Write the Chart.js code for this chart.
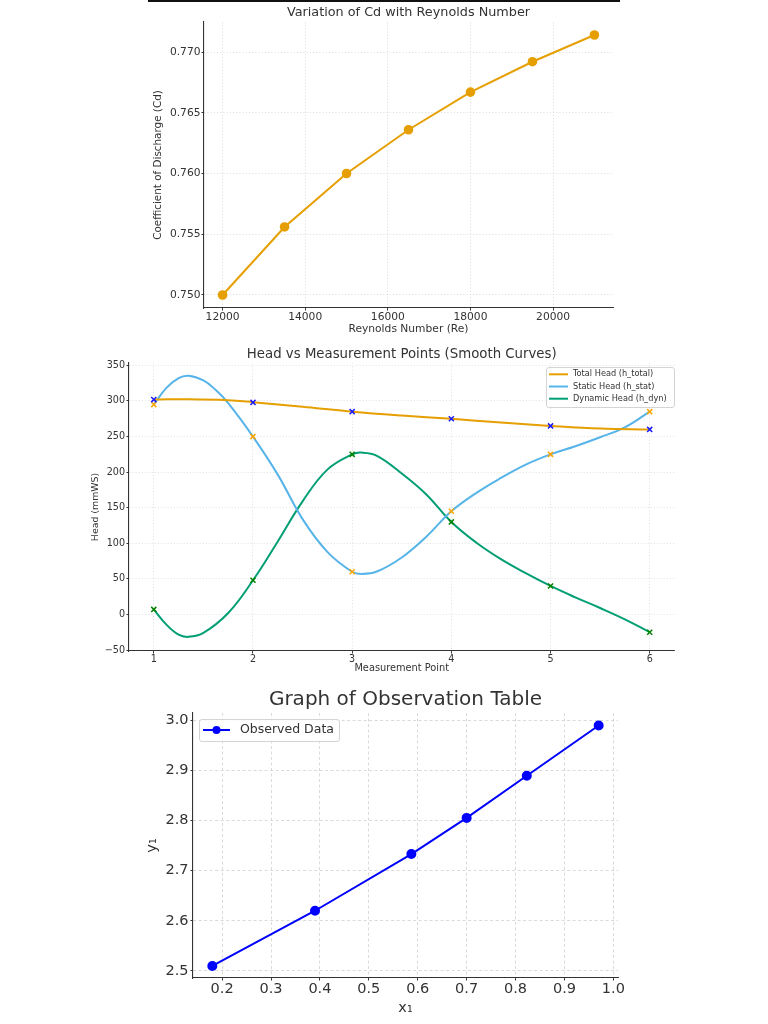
<!DOCTYPE html>
<html>
<head>
<meta charset="utf-8">
<script src="https://cdn.jsdelivr.net/npm/chart.js@4.4.1/dist/chart.umd.min.js"></script>
<style>
html,body{margin:0;padding:0;background:#fff;width:768px;height:1024px;overflow:hidden;}
.box{position:absolute;}
#topline{position:absolute;left:148px;top:0;width:472px;height:2px;background:#111;}
canvas{display:block;}
</style>
</head>
<body>
<div id="topline"></div>
<div class="box" style="left:148px;top:0;"><canvas id="c1" width="472" height="340"></canvas></div>
<div class="box" style="left:80px;top:340px;"><canvas id="c2" width="600" height="340"></canvas></div>
<div class="box" style="left:140px;top:680px;"><canvas id="c3" width="500" height="344"></canvas></div>
<script>
// ---------- Chart 1 data ----------
const reynolds = [12000, 13500, 15000, 16500, 18000, 19500, 21000];
const cd = [0.750, 0.7556, 0.760, 0.7636, 0.7667, 0.7692, 0.7714];
const reTicks = [12000, 14000, 16000, 18000, 20000];
const cdTicks = [0.750, 0.755, 0.760, 0.765, 0.770];

// ---------- Chart 2 data ----------
const measPoints = [1, 2, 3, 4, 5, 6];
const hTotal = [302, 298, 285, 275, 265, 260];
const hStat = [295, 250, 60, 145, 225, 285];
const hDyn = [7, 48, 225, 130, 40, -25];
// smooth curves
const totalCurveX = [1, 1.35, 1.75, 2, 2.5, 3, 3.5, 4, 4.5, 5, 5.5, 6];
const totalCurveY = [302, 302.6, 301.2, 298.4, 291.8, 285, 279.6, 275, 269.7, 265, 261.3, 260];
const statCurveX = [1, 1.125, 1.25, 1.35, 1.5, 1.62, 1.75, 2, 2.25, 2.5, 2.75, 3, 3.1, 3.25, 3.5, 3.75, 4, 4.25, 4.5, 4.75, 5, 5.25, 5.5, 5.75, 6];
const statCurveY = [295, 318, 332, 335.5, 329, 316, 297, 250, 196.5, 134, 88, 60, 57, 60.3, 80, 109.6, 145, 170.6, 191.8, 210.6, 225, 236.4, 249, 263, 285];
const dynCurveX = [1, 1.125, 1.25, 1.35, 1.5, 1.75, 2, 2.25, 2.5, 2.75, 3, 3.09, 3.25, 3.5, 3.75, 4, 4.25, 4.5, 4.75, 5, 5.25, 5.5, 5.75, 6];
const dynCurveY = [7, -14, -28.5, -31.5, -26, 2, 48, 102.6, 159, 203.5, 225, 227.5, 223, 198, 168.3, 130, 101.2, 77.7, 58, 40, 24, 9, -7, -25];
const pointTicks = [1, 2, 3, 4, 5, 6];
const headTicks = [-50, 0, 50, 100, 150, 200, 250, 300, 350];

// ---------- Chart 3 data ----------
const obsX = [0.18, 0.39, 0.587, 0.70, 0.823, 0.97];
const obsY = [2.51, 2.62, 2.733, 2.805, 2.889, 2.989];
const obsXTicks = [0.2, 0.3, 0.4, 0.5, 0.6, 0.7, 0.8, 0.9, 1.0];
const obsYTicks = [2.5, 2.6, 2.7, 2.8, 2.9, 3.0];

const zip = (xs, ys) => xs.map((x, i) => ({x: x, y: ys[i]}));

Chart.defaults.font.family = '"DejaVu Sans", sans-serif';
Chart.defaults.color = '#333';
Chart.defaults.animation = false;

const deco = {
  id: 'deco',
  afterDatasetsDraw(chart, args, o) {
    const ctx = chart.ctx, a = chart.chartArea;
    ctx.save();
    if (o.title) {
      ctx.font = o.titleSize + 'px "DejaVu Sans"';
      ctx.fillStyle = '#333';
      ctx.textAlign = 'center';
      ctx.textBaseline = 'middle';
      ctx.fillText(o.title, (a.left + a.right) / 2, o.titleY);
    }
    if (o.lg) {
      const L = o.lg;
      const items = chart.data.datasets.filter(d => d.inLegend);
      ctx.fillStyle = 'rgba(255,255,255,0.85)';
      ctx.strokeStyle = '#d4d4d4';
      ctx.lineWidth = 1;
      ctx.beginPath();
      ctx.roundRect(L.x + 0.5, L.y + 0.5, L.w, L.h, 2.5);
      ctx.fill();
      ctx.stroke();
      items.forEach((d, i) => {
        const y = L.y + L.first + i * L.rowH;
        ctx.strokeStyle = d.borderColor;
        ctx.lineWidth = L.lw;
        ctx.beginPath();
        ctx.moveTo(L.hx1, y);
        ctx.lineTo(L.hx2, y);
        ctx.stroke();
        if (L.dot) {
          ctx.fillStyle = d.borderColor;
          ctx.beginPath();
          ctx.arc((L.hx1 + L.hx2) / 2, y, L.dot, 0, Math.PI * 2);
          ctx.fill();
        }
        ctx.fillStyle = '#333';
        ctx.font = L.size + 'px "DejaVu Sans"';
        ctx.textAlign = 'left';
        ctx.textBaseline = 'middle';
        ctx.fillText(d.label, L.tx, y);
      });
    }
    ctx.restore();
  }
};

function axis(opts) {
  return {
    type: 'linear',
    min: opts.min, max: opts.max,
    afterBuildTicks: s => { s.ticks = opts.ticks.map(v => ({value: v})); },
    afterFit: s => { if (opts.w !== undefined) s.width = opts.w; if (opts.h !== undefined) s.height = opts.h; },
    ticks: { font: {size: opts.fs}, padding: opts.pad, maxRotation: 0, autoSkip: false, color: '#333',
             callback: opts.fmt },
    grid: { color: opts.gridColor, lineWidth: 0.8, tickColor: '#333', tickLength: 2.5, tickWidth: 1, tickBorderDash: [] },
    border: { display: true, color: '#333', width: 1.1, dash: opts.dash },
    title: { display: true, text: opts.title, font: {size: opts.lfs}, color: '#333', padding: opts.tpad }
  };
}

// ---------- Chart 1 ----------
const ORANGE1 = '#E69F00';
new Chart(document.getElementById('c1'), {
  type: 'line',
  data: { datasets: [{
    label: 'Cd', data: zip(reynolds, cd),
    borderColor: ORANGE1, backgroundColor: ORANGE1,
    pointBackgroundColor: ORANGE1, pointBorderColor: ORANGE1,
    pointRadius: 3.8, borderWidth: 2, tension: 0
  }]},
  options: {
    responsive: false,
    layout: { padding: { left: 0, right: 7, top: 22, bottom: 0 } },
    plugins: { legend: {display: false}, tooltip: {enabled: false},
      deco: { title: 'Variation of Cd with Reynolds Number', titleSize: 12.8, titleY: 12.5 } },
    scales: {
      x: axis({min: 11550, max: 21450, ticks: reTicks, h: 32, fs: 10.7, pad: 0, fmt: v => String(v),
               gridColor: '#d8d8d8', dash: [1.2, 2], title: 'Reynolds Number (Re)', lfs: 10.7, tpad: {top: 0, bottom: 4}}),
      y: axis({min: 0.74893, max: 0.77247, ticks: cdTicks, w: 56, fs: 10.7, pad: 1, fmt: v => v.toFixed(3),
               gridColor: '#d8d8d8', dash: [1.2, 2], title: 'Coefficient of Discharge (Cd)', lfs: 10.4, tpad: {top: 4.5, bottom: 0}})
    }
  },
  plugins: [deco]
});

// ---------- Chart 2 ----------
const C_TOTAL = '#E69F00', C_STAT = '#56B4E9', C_DYN = '#009E73';
function curve(label, xs, ys, color) {
  return { label: label, data: zip(xs, ys), borderColor: color, backgroundColor: color,
           borderWidth: 2, pointRadius: 0, tension: 0.4, inLegend: true, order: 2 };
}
function marks(label, xs, ys, color) {
  return { label: label, data: zip(xs, ys), showLine: false, pointStyle: 'crossRot',
           pointRadius: 3.6, pointBorderWidth: 1.5, pointBorderColor: color, pointBackgroundColor: color,
           borderColor: color, inLegend: false, order: 1 };
}
new Chart(document.getElementById('c2'), {
  type: 'line',
  data: { datasets: [
    curve('Total Head (h_total)', totalCurveX, totalCurveY, C_TOTAL),
    curve('Static Head (h_stat)', statCurveX, statCurveY, C_STAT),
    curve('Dynamic Head (h_dyn)', dynCurveX, dynCurveY, C_DYN),
    marks('Total data', measPoints, hTotal, '#1a1aff'),
    marks('Static data', measPoints, hStat, '#FFA500'),
    marks('Dynamic data', measPoints, hDyn, '#008000')
  ]},
  options: {
    responsive: false,
    layout: { padding: { left: 0, right: 3, top: 23, bottom: 0 } },
    plugins: { legend: {display: false}, tooltip: {enabled: false},
      deco: { title: 'Head vs Measurement Points (Smooth Curves)', titleSize: 13.3, titleY: 15,
              lg: { x: 466, y: 27, w: 128, h: 40, first: 7.3, rowH: 12.2, hx1: 469, hx2: 488, tx: 493, size: 8.2, lw: 2 } } },
    scales: {
      x: axis({min: 0.75, max: 6.25, ticks: pointTicks, h: 29, fs: 9.6, pad: 0, fmt: v => String(v),
               gridColor: '#dddddd', dash: [1.2, 2], title: 'Measurement Point', lfs: 9.8, tpad: {top: 0, bottom: 6}}),
      y: axis({min: -51.4, max: 353.4, ticks: headTicks, w: 49, fs: 9.6, pad: 1.5,
               fmt: v => (v < 0 ? '\u2212' + Math.abs(v) : String(v)),
               gridColor: '#dddddd', dash: [1.2, 2], title: 'Head (mmWS)', lfs: 9.4, tpad: {top: 9.5, bottom: 0}})
    }
  },
  plugins: [deco]
});

// ---------- Chart 3 ----------
const BLUE = '#0000ff';
new Chart(document.getElementById('c3'), {
  type: 'line',
  data: { datasets: [{
    label: 'Observed Data', data: zip(obsX, obsY),
    borderColor: BLUE, backgroundColor: BLUE, pointBackgroundColor: BLUE, pointBorderColor: BLUE,
    pointRadius: 4, borderWidth: 2, tension: 0, inLegend: true
  }]},
  options: {
    responsive: false,
    layout: { padding: { left: 0, right: 22, top: 33, bottom: 0 } },
    plugins: { legend: {display: false}, tooltip: {enabled: false},
      deco: { title: 'Graph of Observation Table', titleSize: 20, titleY: 19.5,
              lg: { x: 59, y: 39, w: 140, h: 22, first: 11, rowH: 0, hx1: 63, hx2: 90, tx: 100, size: 12.5, lw: 2, dot: 4 } } },
    scales: {
      x: axis({min: 0.1405, max: 1.0095, ticks: obsXTicks, h: 46, fs: 14.5, pad: 0, fmt: v => v.toFixed(1),
               gridColor: '#d0d0d0', dash: [3, 2.5], title: 'x\u2081', lfs: 14.5, tpad: {top: 0, bottom: 7}}),
      y: axis({min: 2.486, max: 3.014, ticks: obsYTicks, w: 53, fs: 14.5, pad: 2, fmt: v => v.toFixed(1),
               gridColor: '#d0d0d0', dash: [3, 2.5], title: 'y\u2081', lfs: 14.5, tpad: {top: 4, bottom: 0}})
    }
  },
  plugins: [deco]
});
</script>
</body>
</html>
